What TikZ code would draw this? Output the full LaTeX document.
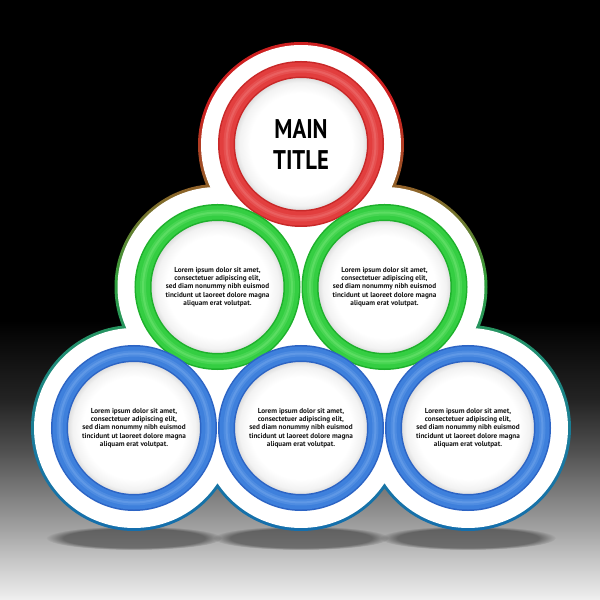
\documentclass[tikz,border=0pt]{standalone}
\usepackage{fontspec}
\setmainfont{PT Sans}
\newfontfamily\titlefont[FakeStretch=0.84]{PT Sans}
\newfontfamily\bodyfam{PT Sans}
\usetikzlibrary{fadings}

\definecolor{bga}{gray}{0.94}
\definecolor{bgb}{gray}{0.78}
\definecolor{bgc}{gray}{0.64}
\definecolor{bgd}{gray}{0.31}
\definecolor{bge}{gray}{0.14}

\definecolor{ored}{RGB}{205,32,32}
\definecolor{obrown}{RGB}{140,100,40}
\definecolor{ogreen}{RGB}{50,160,60}
\definecolor{oteal}{RGB}{30,140,120}
\definecolor{oblueb}{RGB}{25,120,160}
\definecolor{oblue}{RGB}{20,110,172}

\definecolor{rrdk}{RGB}{200,40,40}
\definecolor{rrmn}{RGB}{226,62,62}
\definecolor{rrlt}{RGB}{244,130,130}
\definecolor{rgdk}{RGB}{30,176,44}
\definecolor{rgmn}{RGB}{52,206,66}
\definecolor{rglt}{RGB}{130,236,130}
\definecolor{rbdk}{RGB}{44,100,196}
\definecolor{rbmn}{RGB}{62,128,220}
\definecolor{rblt}{RGB}{128,176,240}
\definecolor{txt}{RGB}{20,20,20}

\pgfdeclareverticalshading{bgshade}{100bp}{color(0bp)=(bga); color(25bp)=(bga); color(32bp)=(bgb); color(37.5bp)=(bgc); color(51.8bp)=(bgd); color(60.7bp)=(bge); color(75bp)=(black); color(100bp)=(black)}
\pgfdeclareverticalshading{blobshade}{100bp}{color(0bp)=(oblue); color(25bp)=(oblue); color(33bp)=(oblueb); color(42.5bp)=(oteal); color(50.7bp)=(ogreen); color(59.8bp)=(obrown); color(68bp)=(ored); color(100bp)=(ored)}
\pgfdeclareradialshading{inshade}{\pgfpoint{0bp}{0bp}}{color(0bp)=(white); color(19bp)=(white); color(23bp)=(gray!10); color(25bp)=(gray!28); color(50bp)=(gray!28)}

\tikzset{
  inner/.style={circle, minimum size=134pt, inner sep=0pt, shade, shading=inshade, align=center, text=txt},
  bodytext/.style={font=\bodyfam\bfseries\fontsize{7.2}{8.3}\selectfont},
  titletext/.style={font=\titlefont\bfseries\fontsize{27}{31}\selectfont, text=black},
  pics/ring/.style={code={
    \draw[line width=17pt, draw=#1dk] (0,0) circle[radius=74.5];
    \draw[line width=14pt, draw=#1mn] (0,0) circle[radius=74.5];
    \draw[line width=6pt, draw=#1lt, opacity=0.25] (0,0) circle[radius=74.5];
    \draw[line width=2pt, draw=#1lt, opacity=0.35] (0,0) circle[radius=74.5];
  }}
}

\begin{document}
\begin{tikzpicture}[x=1pt,y=1pt]
\useasboundingbox (0,0) rectangle (600,600);
\fill[black] (0,0) rectangle (600,600);
\shade[shading=bgshade] (0,0) rectangle (600,280);

% shadows under the bottom row
\foreach \sx in {134,301,468}
  \fill[black, opacity=0.4, path fading=circle with fuzzy edge 20 percent] (\sx,62) ellipse [x radius=88, y radius=12];

% outline of the white blob
\shade[shading=blobshade] (301,455) circle[radius=103] (217.5,313) circle[radius=103] (384.5,313) circle[radius=103]
  (134,172) circle[radius=103] (301,172) circle[radius=103] (468,172) circle[radius=103];
\fill[white] (301,455) circle[radius=100] (217.5,313) circle[radius=100] (384.5,313) circle[radius=100]
  (134,172) circle[radius=100] (301,172) circle[radius=100] (468,172) circle[radius=100];

% circles
\node[inner, titletext] (top) at (301,456) {MAIN\\TITLE};
\node[inner, bodytext] (gl) at (217.5,313) {Lorem ipsum dolor sit amet,\\consectetuer adipiscing elit,\\sed diam nonummy nibh euismod\\tincidunt ut laoreet dolore magna\\aliquam erat volutpat.};
\node[inner, bodytext] (gr) at (384.5,313) {Lorem ipsum dolor sit amet,\\consectetuer adipiscing elit,\\sed diam nonummy nibh euismod\\tincidunt ut laoreet dolore magna\\aliquam erat volutpat.};
\node[inner, bodytext] (bl) at (134,172) {Lorem ipsum dolor sit amet,\\consectetuer adipiscing elit,\\sed diam nonummy nibh euismod\\tincidunt ut laoreet dolore magna\\aliquam erat volutpat.};
\node[inner, bodytext] (bm) at (301,172) {Lorem ipsum dolor sit amet,\\consectetuer adipiscing elit,\\sed diam nonummy nibh euismod\\tincidunt ut laoreet dolore magna\\aliquam erat volutpat.};
\node[inner, bodytext] (br) at (468,172) {Lorem ipsum dolor sit amet,\\consectetuer adipiscing elit,\\sed diam nonummy nibh euismod\\tincidunt ut laoreet dolore magna\\aliquam erat volutpat.};

% rings
\pic at (top.center) {ring=rr};
\pic at (gl.center) {ring=rg};
\pic at (gr.center) {ring=rg};
\pic at (bl.center) {ring=rb};
\pic at (bm.center) {ring=rb};
\pic at (br.center) {ring=rb};
\end{tikzpicture}
\end{document}
